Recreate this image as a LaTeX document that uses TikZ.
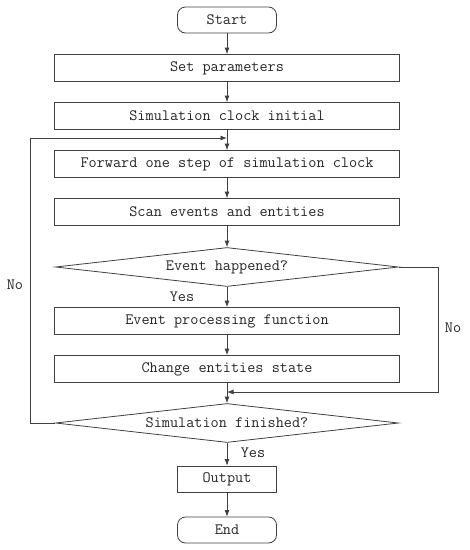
\documentclass[tikz,border=0pt]{standalone}
\usepackage{tikz}
\usetikzlibrary{%
  shapes.geometric,%
  calc,%
  arrows.meta%
}
\newcommand{\flowfont}{\fontsize{15.8}{18}\selectfont\ttfamily}

\begin{document}
\begin{tikzpicture}[x=1pt, y=-1pt, >={Latex[length=6.5pt,width=5pt]},
  color=black!75, line width=0.8pt,
  every node/.style={font=\flowfont, text=black!85},
  stepbox/.style={draw, rectangle, minimum width=345pt, minimum height=27pt, inner sep=0pt},
  smallbox/.style={draw, rectangle, minimum width=99pt, minimum height=26pt, inner sep=0pt},
  terminal/.style={smallbox, rounded corners=8pt},
  decision/.style={draw, diamond, aspect=8.8, minimum width=343pt, minimum height=39pt, inner sep=0pt}]
\useasboundingbox (0,0) rectangle (470,550);

\node[terminal] (start) at (227,20) {Start};
\node[stepbox] (setp) at (227,68) {Set parameters};
\node[stepbox] (init) at (227,116) {Simulation clock initial};
\node[stepbox] (fwd) at (227,164) {Forward one step of simulation clock};
\node[stepbox] (scan) at (227,212) {Scan events and entities};
\node[decision] (happ) at (227,267) {Event happened?};
\node[stepbox] (evp) at (227,321) {Event processing function};
\node[stepbox] (chg) at (227,369) {Change entities state};
\node[decision] (fin) at (227,423) {Simulation finished?};
\node[smallbox] (out) at (227,479) {Output};
\node[terminal] (end) at (227,530) {End};

\coordinate (loop) at (227,138);
\coordinate (merge) at (227,392);
\coordinate (rt) at (438,267);
\coordinate (lt) at (30,423);

\draw
	(start) edge[->] (setp)
	(setp) edge[->] (init)
	(init) edge[->] (fwd)
	(fwd) edge[->] (scan)
	(scan) edge[->] (happ)
	(happ) edge[->] (evp)
	(evp) edge[->] (chg)
	(chg) edge[->] (fin)
	(fin) edge[->] (out)
	(out) edge[->] (end)
;
\draw[->] (happ.east) -- (rt) |- (merge);
\draw[->] (fin.west) -- (lt) |- (loop);

\node (yes1) at (182,297) {Yes};
\node (yes2) at (253,453) {Yes};
\node (no1) at (15,285) {No};
\node (no2) at (453,328) {No};
\end{tikzpicture}
\end{document}
